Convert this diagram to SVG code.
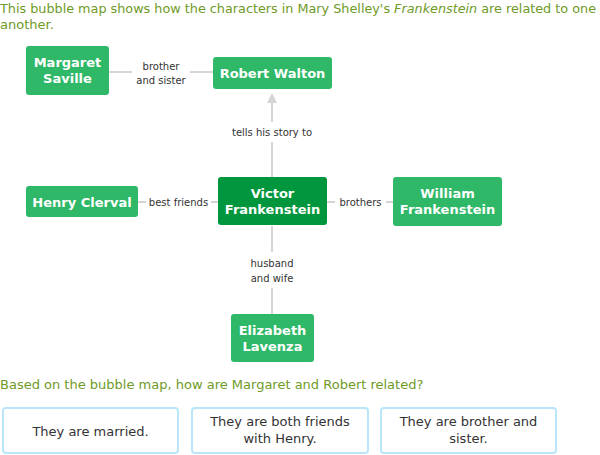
<svg xmlns="http://www.w3.org/2000/svg" width="600" height="455" viewBox="0 0 600 455">
<defs>
<style>
.q{font-family:"DejaVu Sans",Verdana,sans-serif;font-size:13px;fill:#6f9a27}
.n{fill:#2eb867}
.nv{fill:#00963d}
.nt{font-family:"DejaVu Sans",Verdana,sans-serif;font-size:13px;font-weight:bold;fill:#fff;text-anchor:middle}
.c{stroke:#d5d5d5;stroke-width:2;fill:none}
.l{font-family:"DejaVu Sans",Verdana,sans-serif;font-size:10px;fill:#333;text-anchor:middle}
.a{fill:#fff;stroke:#b9e6fa;stroke-width:2}
.at{font-family:"DejaVu Sans",Verdana,sans-serif;font-size:13px;fill:#333;text-anchor:middle}
</style>
</defs>
<rect width="600" height="455" fill="#fff"/>
<text class="q" x="0" y="13" textLength="596" lengthAdjust="spacingAndGlyphs">This bubble map shows how the characters in Mary Shelley's <tspan font-style="italic">Frankenstein</tspan> are related to one</text>
<text class="q" x="0" y="29">another.</text>

<g id="connectors">
<line class="c" x1="109" y1="72" x2="132" y2="72"/>
<line class="c" x1="190" y1="72" x2="213" y2="72"/>
<text class="l" x="161" y="70">brother</text>
<text class="l" x="161" y="84">and sister</text>
<line class="c" x1="272" y1="177" x2="272" y2="142"/>
<line class="c" x1="272" y1="122" x2="272" y2="103"/>
<path d="M267,103 L272,93 L277,103 Z" fill="#d5d5d5"/>
<text class="l" x="272" y="136">tells his story to</text>
<line class="c" x1="138" y1="202" x2="146" y2="202"/>
<line class="c" x1="211" y1="202" x2="218" y2="202"/>
<text class="l" x="178.5" y="206">best friends</text>
<line class="c" x1="327" y1="202" x2="335" y2="202"/>
<line class="c" x1="386" y1="202" x2="393" y2="202"/>
<text class="l" x="360.5" y="206">brothers</text>
<line class="c" x1="272" y1="226" x2="272" y2="252"/>
<line class="c" x1="272" y1="288" x2="272" y2="314"/>
<text class="l" x="272" y="267">husband</text>
<text class="l" x="272" y="282">and wife</text>
</g>

<g id="margaret">
<rect class="n" x="26" y="46" width="83" height="49" rx="3"/>
<text class="nt" x="67.5" y="67">Margaret</text>
<text class="nt" x="67.5" y="83">Saville</text>
</g>
<g id="robert">
<rect class="n" x="213" y="57" width="119" height="32" rx="3"/>
<text class="nt" x="272.5" y="77.5">Robert Walton</text>
</g>
<g id="victor">
<rect class="nv" x="218" y="177" width="109" height="48" rx="3"/>
<text class="nt" x="272.5" y="198">Victor</text>
<text class="nt" x="272.5" y="214">Frankenstein</text>
</g>
<g id="henry">
<rect class="n" x="26" y="186" width="112" height="31" rx="3"/>
<text class="nt" x="82" y="206.5">Henry Clerval</text>
</g>
<g id="william">
<rect class="n" x="393" y="177" width="109" height="49" rx="3"/>
<text class="nt" x="447.5" y="198">William</text>
<text class="nt" x="447.5" y="214">Frankenstein</text>
</g>
<g id="elizabeth">
<rect class="n" x="231" y="314" width="83" height="48" rx="3"/>
<text class="nt" x="272.5" y="335">Elizabeth</text>
<text class="nt" x="272.5" y="351">Lavenza</text>
</g>

<text class="q" x="0" y="389">Based on the bubble map, how are Margaret and Robert related?</text>

<g id="answer1">
<rect class="a" x="3" y="408" width="175" height="45" rx="3"/>
<text class="at" x="90.5" y="435.5">They are married.</text>
</g>
<g id="answer2">
<rect class="a" x="192" y="408" width="176" height="45" rx="3"/>
<text class="at" x="280" y="426">They are both friends</text>
<text class="at" x="280" y="443">with Henry.</text>
</g>
<g id="answer3">
<rect class="a" x="381" y="408" width="175" height="45" rx="3"/>
<text class="at" x="468.5" y="426">They are brother and</text>
<text class="at" x="468.5" y="443">sister.</text>
</g>
</svg>
